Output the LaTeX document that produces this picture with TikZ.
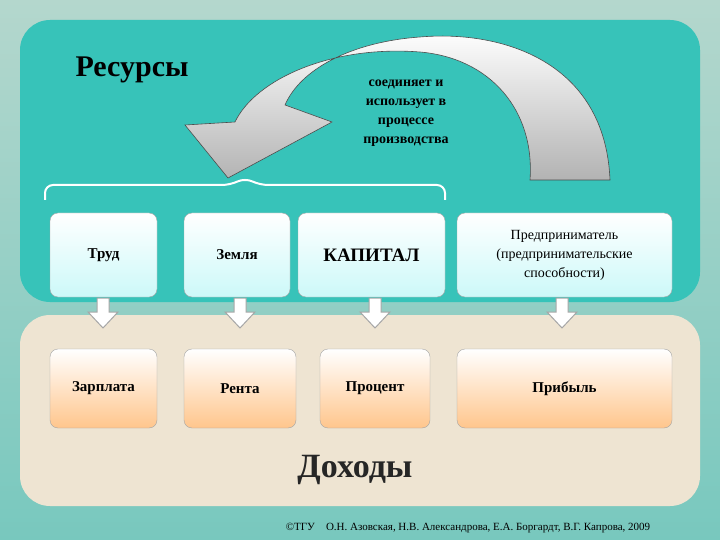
\documentclass[tikz,border=0pt]{standalone}
\usepackage{fontspec}
\setmainfont{Liberation Serif}
\begin{document}
\begin{tikzpicture}[x=1pt,y=-1pt,
 tbox/.style={draw=gray!70,rounded corners=8pt,top color=white,bottom color=teal!25!cyan!20,minimum width=#1,minimum height=84pt,font=\bfseries\fontsize{15}{17}\selectfont,align=center},
 bbox/.style={draw=gray!70,rounded corners=8pt,top color=white,bottom color=orange!45,minimum width=#1,minimum height=79pt,font=\bfseries\fontsize{15}{17}\selectfont,align=center},
 darr/.style={draw=gray!70,fill=white,line width=1pt}]
\definecolor{bgA}{RGB}{180,215,205}
\definecolor{bgB}{RGB}{120,200,190}
\definecolor{panT}{RGB}{55,195,185}
\definecolor{panB}{RGB}{238,228,210}
\useasboundingbox (0,0) rectangle (720,540);
\shade[top color=bgA,bottom color=bgB] (0,0) rectangle (720,540);
\fill[panT,rounded corners=30pt] (20,20) rectangle (700,302);
\fill[panB,rounded corners=30pt] (20,315) rectangle (700,506);
\node[font=\bfseries\fontsize{30}{34}\selectfont] (res) at (132,70) {Ресурсы};
\shade[top color=white,bottom color=gray!60,draw=gray!60!black,line width=0.6pt]
 (610,180) .. controls (605,60) and (500,30) .. (420,37)
 .. controls (350,42) and (300,70) .. (285,105)
 -- (332,122) -- (228,178) -- (185,125) -- (235,122)
 .. controls (255,80) and (330,45) .. (420,52)
 .. controls (490,58) and (535,110) .. (530,180) -- cycle;
\node[font=\bfseries\fontsize{14}{19}\selectfont,align=center] (txt) at (406,113) {соединяет и\\использует в\\процессе\\производства};
\draw[white,line width=2pt,rounded corners=8pt] (45,200) -- (45,185) -- (230,185) -- (245,178) -- (260,185) -- (445,185) -- (445,200);
\node[tbox=107pt] (t1) at (103.5,255) {Труд};
\node[tbox=106pt] (t2) at (237,255) {Земля};
\node[tbox=147pt,font=\bfseries\fontsize{19}{21}\selectfont] (t3) at (371.5,255) {КАПИТАЛ};
\node[tbox=215pt,font=\fontsize{14}{19}\selectfont] (t4) at (564.5,255) {Предприниматель\\(предпринимательские\\способности)};
\node[bbox=107pt] (b1) at (103.5,388.5) {Зарплата};
\node[bbox=112pt] (b2) at (240,388.5) {Рента};
\node[bbox=110pt] (b3) at (375,388.5) {Процент};
\node[bbox=215pt] (b4) at (564.5,388.5) {Прибыль};
\foreach \x in {103,240,375,562}{
 \draw[darr] (\x-6,298) -- (\x+6,298) -- (\x+6,312) -- (\x+15,312) -- (\x,328) -- (\x-15,312) -- (\x-6,312) -- cycle;}
\node[font=\bfseries\fontsize{34}{38}\selectfont,text=black!85] (doh) at (355,470) {Доходы};
\node[font=\fontsize{11}{13}\selectfont] (foot) at (468,528) {©ТГУ\quad О.Н. Азовская, Н.В. Александрова, Е.А. Боргардт, В.Г. Капрова, 2009};
\end{tikzpicture}
\end{document}
